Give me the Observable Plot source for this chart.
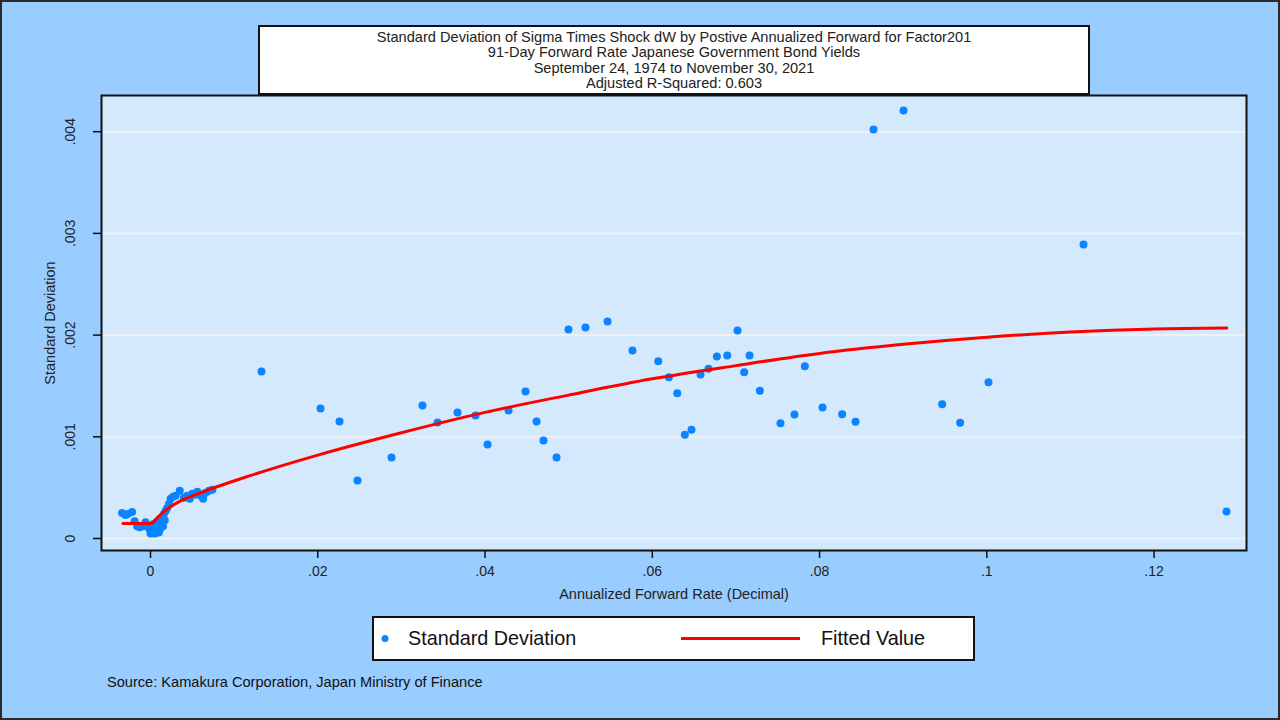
<!DOCTYPE html>
<html>
<head>
<meta charset="utf-8">
<script src="https://cdn.jsdelivr.net/npm/d3@7"></script>
<script src="https://cdn.jsdelivr.net/npm/@observablehq/plot@0.6"></script>
<style>
  body { margin: 0; font-family: "Liberation Sans", Arial, sans-serif; }
  #wrap { position: relative; width: 1280px; height: 720px; background: #99ccff; overflow: hidden; }
  #chart { position: absolute; left: 0; top: 0; }
  #titlebox { position: absolute; left: 258px; top: 25px; width: 828px; height: 63px; background: #fff; border: 2px solid #111;
    text-align: center; font-size: 14.6px; line-height: 15.4px; color: #222; padding-top: 3px; box-sizing: content-box; }
  #legend { position: absolute; left: 372px; top: 616px; width: 599px; height: 41px; background: #fff; border: 2px solid #111; }
  .lg { position: absolute; top: 0; line-height: 41px; font-size: 19.8px; color: #111; }
  #source { position: absolute; left: 107px; top: 674px; font-size: 14.6px; color: #111; }
  #border { position: absolute; left: 0; top: 0; width: 1280px; height: 720px; box-sizing: border-box; border: 2px solid #2a2a2a; pointer-events: none; }
</style>
</head>
<body>
<div id="wrap">
  <div id="chart"></div>
  <div id="titlebox"></div>
  <div id="legend"></div>
  <div id="source"></div>
  <div id="border"></div>
</div>
<script>
const titleLines = [
  "Standard Deviation of Sigma Times Shock dW by Postive Annualized Forward for Factor201",
  "91-Day Forward Rate Japanese Government Bond Yields",
  "September 24, 1974 to November 30, 2021",
  "Adjusted R-Squared: 0.603"
];
const xTitle = "Annualized Forward Rate (Decimal)";
const yTitle = "Standard Deviation";
const sourceText = "Source: Kamakura Corporation, Japan Ministry of Finance";
const seriesNames = ["Standard Deviation", "Fitted Value"];

const xTicks = [0, 0.02, 0.04, 0.06, 0.08, 0.1, 0.12];
const yTicks = [0, 0.001, 0.002, 0.003, 0.004];

// Scatter points: annualized forward rate and standard deviation
const pointX = [
  -0.0034, -0.0030, -0.0027, -0.0022, -0.0019, -0.0016, -0.0013, -0.0010, -0.0006, -0.0003,
  -0.0001, 0.0000, 0.0001, 0.0002, 0.0003, 0.0004, 0.0005, 0.0006, 0.0007, 0.0008,
  0.0009, 0.0010, 0.0011, 0.0012, 0.0013, 0.0014, 0.0015, 0.0016, 0.0017, 0.0018,
  0.0020, 0.0022, 0.0024, 0.0027, 0.0030, 0.0035, 0.0040, 0.0044, 0.0047, 0.0050,
  0.0053, 0.0056, 0.0060, 0.0063, 0.0066, 0.0070, 0.0074,
  0.01327, 0.02033, 0.0226, 0.02475, 0.02882, 0.03252, 0.03432, 0.03671, 0.03886, 0.0403,
  0.04281, 0.04484, 0.04616, 0.04699, 0.04855, 0.04998, 0.05201, 0.05465, 0.05763, 0.06071,
  0.06198, 0.06298, 0.06389, 0.06469, 0.06577, 0.06672, 0.06772, 0.06896, 0.07019, 0.07099,
  0.07163, 0.07286, 0.07533, 0.077, 0.07824, 0.08035, 0.0827, 0.0843, 0.08645, 0.09004,
  0.09466, 0.09681, 0.1002, 0.11156, 0.12866
];
const pointY = [
  0.00025, 0.00023, 0.00024, 0.00026, 0.00017, 0.00012, 0.00011, 0.00012, 0.00016, 0.00011,
  0.00009, 0.00005, 0.00012, 0.00007, 0.00014, 0.00009, 0.00005, 0.00011, 0.00016, 0.00008,
  0.00013, 0.00006, 0.00018, 0.00010, 0.00015, 0.00020, 0.00012, 0.00024, 0.00018, 0.00027,
  0.00030, 0.00034, 0.00039, 0.00041, 0.00042, 0.00047, 0.00040, 0.00042, 0.00039, 0.00044,
  0.00043, 0.00046, 0.00042, 0.00039, 0.00045, 0.00047, 0.00048,
  0.001642, 0.001278, 0.00115, 0.00057, 0.000796, 0.001308, 0.00114, 0.001239, 0.00121, 0.000924,
  0.001259, 0.001445, 0.00115, 0.000964, 0.000796, 0.002055, 0.002075, 0.002134, 0.001849, 0.001744,
  0.001586, 0.001429, 0.00102, 0.001069, 0.001613, 0.001668, 0.00179, 0.0018, 0.002045, 0.001635,
  0.0018, 0.001452, 0.001134, 0.001219, 0.001694, 0.001288, 0.001222, 0.001147, 0.004022, 0.004208,
  0.001321, 0.001138, 0.001537, 0.002891, 0.000265
];

// Fitted values
const fitX = [-0.0033, 0.0, 0.001, 0.002, 0.0036, 0.006, 0.012, 0.02, 0.03, 0.04, 0.05, 0.06, 0.07, 0.08, 0.09, 0.1, 0.11, 0.12, 0.1287];
const fitY = [0.000147, 0.000147, 0.00022, 0.00029, 0.00037, 0.00045, 0.00062, 0.00082, 0.00104, 0.00124, 0.00141, 0.00157, 0.00170, 0.00182, 0.00191, 0.00198, 0.00203, 0.00206, 0.00207];

const points = pointX.map((x, i) => ({x, y: pointY[i]}));
const fit = fitX.map((x, i) => ({x, y: fitY[i]}));

const fmt = d => d === 0 ? "0" : String(+d.toFixed(4)).replace(/^0/, "");
const font = '"Liberation Sans", Arial, sans-serif';

const plot = Plot.plot({
  width: 1280,
  height: 720,
  marginLeft: 101,
  marginRight: 34,
  marginTop: 95,
  marginBottom: 170,
  style: {background: "transparent", fontFamily: font, fontSize: "14px", color: "#222"},
  x: {domain: [-0.00586, 0.13105], label: null},
  y: {domain: [-0.000118, 0.004356], label: null},
  marks: [
    Plot.frame({fill: "#d5e9fc", stroke: null}),
    Plot.gridY(yTicks, {stroke: "#eef1f3", strokeOpacity: 1, strokeWidth: 2}),
    Plot.dot(points, {x: "x", y: "y", r: 4, fill: "#0a84ff", stroke: null}),
    Plot.line(fit, {x: "x", y: "y", stroke: "#ff0000", strokeWidth: 3, curve: "monotone-x"}),
    Plot.frame({stroke: "#111", strokeWidth: 2}),
    Plot.axisX({ticks: xTicks, tickSize: 8, tickPadding: 8, tickFormat: fmt, fontSize: 14, stroke: "#111", strokeWidth: 1.5}),
    Plot.axisY({ticks: yTicks, tickSize: 8, tickFormat: () => "", stroke: "#111", strokeWidth: 1.5}),
    Plot.text(yTicks, {y: d => d, text: fmt, frameAnchor: "left", dx: -31, rotate: -90, textAnchor: "middle", lineAnchor: "middle", fontSize: 14, fill: "#222"}),
    Plot.text([xTitle], {text: d => d, frameAnchor: "bottom", dy: 44, textAnchor: "middle", lineAnchor: "middle", fontSize: 14.5, fill: "#222"}),
    Plot.text([yTitle], {text: d => d, frameAnchor: "left", dx: -51, rotate: -90, textAnchor: "middle", lineAnchor: "middle", fontSize: 14.5, fill: "#222"})
  ]
});
document.getElementById("chart").appendChild(plot);

document.getElementById("titlebox").innerHTML = titleLines.map(t => `<div>${t}</div>`).join("");
document.getElementById("source").textContent = sourceText;

const legend = document.getElementById("legend");
legend.innerHTML = `
  <svg style="position:absolute;left:0;top:0" width="599" height="41">
    <circle cx="11" cy="20.5" r="3.5" fill="#0a84ff"></circle>
    <line x1="307" x2="426" y1="20.5" y2="20.5" stroke="#ff0000" stroke-width="3"></line>
  </svg>
  <div class="lg" style="left:34px">${seriesNames[0]}</div>
  <div class="lg" style="left:447px">${seriesNames[1]}</div>`;
</script>
</body>
</html>
